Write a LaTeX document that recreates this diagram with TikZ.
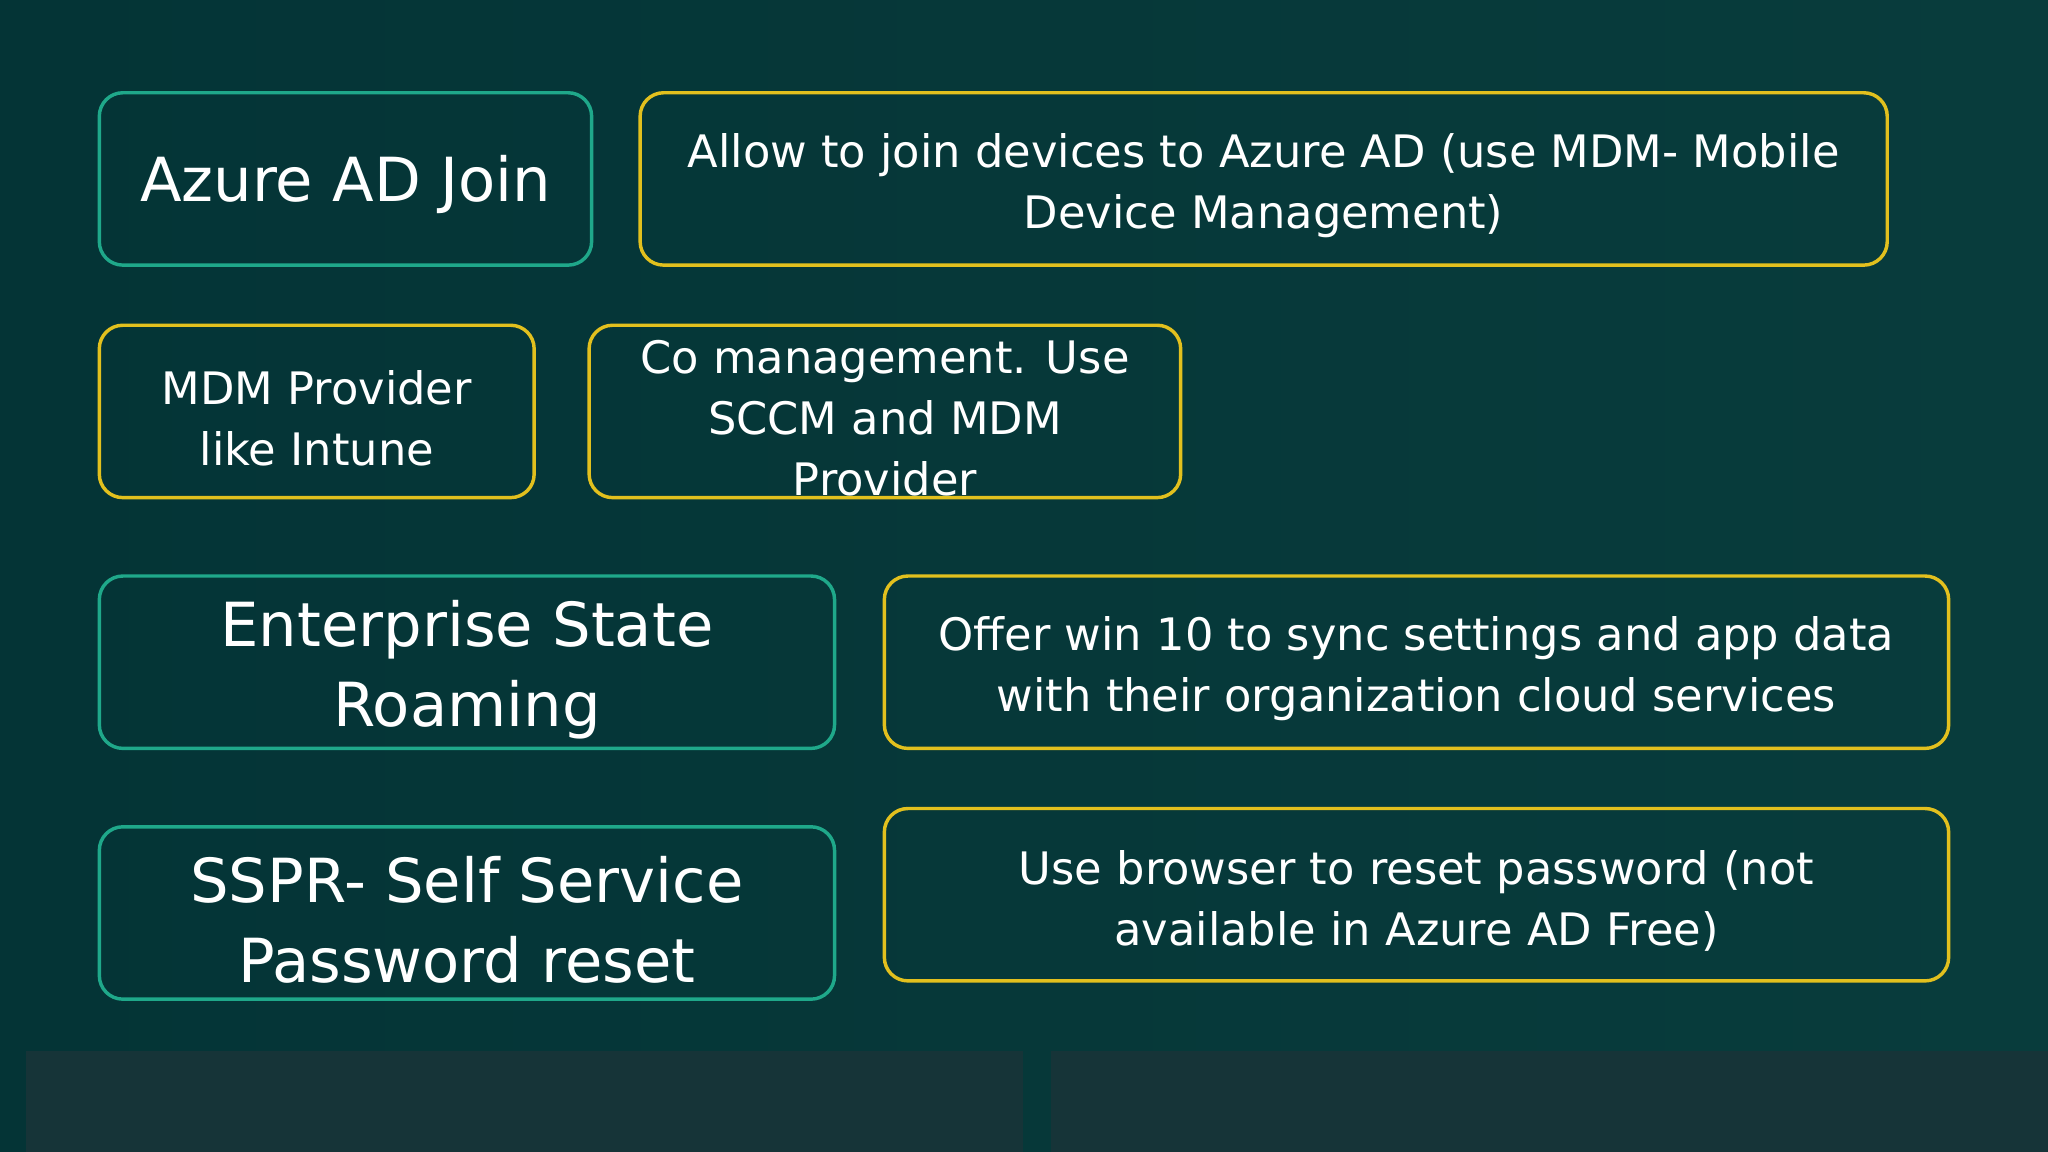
\documentclass[tikz,border=0pt]{standalone}
\usepackage{fontspec}
\setmainfont{DejaVu Sans}
\begin{document}
\begin{tikzpicture}[x=0.02cm,y=-0.02cm,
  box/.style={rounded corners=0.36cm,line width=1.5pt,minimum height=2.64cm,align=center,text=white,inner sep=0pt},
  tealbox/.style={box,draw={rgb,255:red,31;green,168;blue,138}},
  yelbox/.style={box,draw={rgb,255:red,226;green,192;blue,30}},
  big/.style={font=\fontsize{26.5}{35}\selectfont},
  small/.style={font=\fontsize{19.5}{26.5}\selectfont}]
\definecolor{bgA}{RGB}{4,52,54}
\definecolor{bgB}{RGB}{8,60,60}
\definecolor{strip}{RGB}{22,52,56}
\shade[left color=bgA,right color=bgB] (0,0) rectangle (1568,882);
\useasboundingbox (0,0) rectangle (1568,882);
\fill[strip] (20,805) rectangle (783,882);
\fill[strip] (805,805) rectangle (1568,882);
\node[tealbox,big,minimum width=7.54cm] (join) at (264.5,137) {};
\node[font=\fontsize{26.5}{35}\selectfont,text=white] at (264.5,141) {Azure AD Join};
\node[yelbox,small,minimum width=19.1cm] (joind) at (967.5,137) {};
\node[small,text=white,align=center] at (967.5,142) {Allow to join devices to Azure AD (use MDM- Mobile\\Device Management)};
\node[yelbox,small,minimum width=6.66cm] (mdm) at (242.5,315) {};
\node[small,text=white,align=center] at (242.5,320) {MDM Provider\\like Intune};
\node[yelbox,small,minimum width=9.06cm] (co) at (677.5,315) {};
\node[small,text=white,align=center] at (677.5,320) {Co management. Use\\SCCM and MDM\\Provider};
\node[tealbox,big,minimum width=11.26cm] (esr) at (357.5,507) {};
\node[big,text=white,align=center] at (357.5,513) {Enterprise State\\Roaming};
\node[yelbox,small,minimum width=16.3cm] (esrd) at (1084.5,507) {};
\node[small,text=white,align=center] at (1084.5,512) {Offer win 10 to sync settings and app data\\with their organization cloud services};
\node[tealbox,big,minimum width=11.26cm] (sspr) at (357.5,699) {};
\node[big,text=white,align=center] at (357.5,704) {SSPR- Self Service\\Password reset};
\node[yelbox,small,minimum width=16.3cm] (ssprd) at (1084.5,685) {};
\node[small,text=white,align=center] at (1084.5,690) {Use browser to reset password (not\\available in Azure AD Free)};
\end{tikzpicture}
\end{document}
